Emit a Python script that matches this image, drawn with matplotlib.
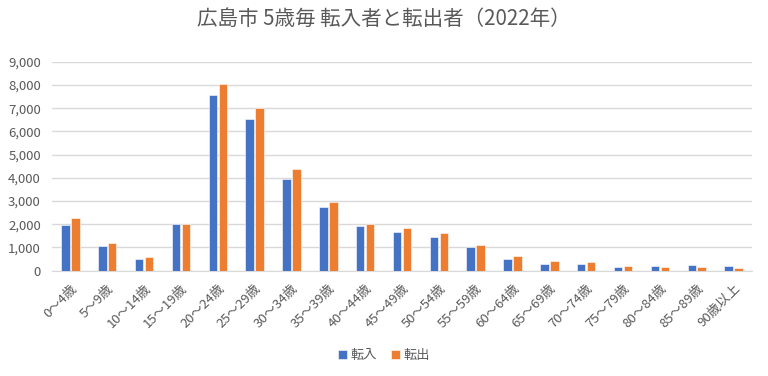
import numpy as np
import matplotlib
matplotlib.use('Agg')
import matplotlib.pyplot as plt
from matplotlib.ticker import FuncFormatter

plt.rcParams['font.family'] = ['Noto Sans CJK JP', 'DejaVu Sans']

# 年齢区分
ages = ['0～4歳', '5～9歳', '10～14歳', '15～19歳', '20～24歳', '25～29歳',
        '30～34歳', '35～39歳', '40～44歳', '45～49歳', '50～54歳', '55～59歳',
        '60～64歳', '65～69歳', '70～74歳', '75～79歳', '80～84歳', '85～89歳',
        '90歳以上']
# 転入者数
tennyu = [1980, 1060, 520, 2000, 7580, 6550, 3970, 2730, 1940, 1680, 1440,
          1000, 510, 310, 280, 160, 220, 250, 190]
# 転出者数
tenshutsu = [2250, 1200, 590, 2000, 8020, 7000, 4360, 2960, 2030, 1830, 1630,
             1100, 630, 400, 370, 200, 160, 160, 110]

fig = plt.figure(figsize=(7.68, 3.76), dpi=100)
ax = fig.add_axes([52/768, 1-270.7/376, 700/768, (270.7-61.7)/376])

x = np.arange(len(ages))
w = 0.23
off = 0.135
ax.bar(x - off, tennyu, w, color='#4472C4', edgecolor='white', linewidth=0.4,
       label='転入', zorder=3)
ax.bar(x + off, tenshutsu, w, color='#ED7D31', edgecolor='white', linewidth=0.4,
       label='転出', zorder=3)

ax.set_xlim(-0.5, len(ages) - 0.5)
ax.set_ylim(0, 9000)
ax.set_yticks(np.arange(0, 9001, 1000))
ax.yaxis.set_major_formatter(FuncFormatter(lambda v, p: f'{int(v):,}'))
ax.grid(axis='y', color='#D9D9D9', linewidth=1, zorder=0)
for s in ['top', 'right', 'left']:
    ax.spines[s].set_visible(False)
ax.spines['bottom'].set_color('#D9D9D9')
ax.tick_params(axis='both', length=0, colors='#595959', labelsize=9.5)
ax.tick_params(axis='y', pad=8)
ax.tick_params(axis='x', pad=8)
ax.set_xticks(x)
ax.set_xticklabels(ages, rotation=45, ha='right', rotation_mode='anchor')

fig.suptitle('広島市 5歳毎 転入者と転出者（2022年）', x=0.5, y=0.978,
             fontsize=14.8, color='#595959')
fig.legend(loc='lower center', bbox_to_anchor=(0.5, 0.005), ncol=2, frameon=False,
           fontsize=9.5, handlelength=0.7, handleheight=0.7, handletextpad=0.3,
           columnspacing=1.0, labelcolor='#595959')

fig.savefig('out.png', dpi=100)
